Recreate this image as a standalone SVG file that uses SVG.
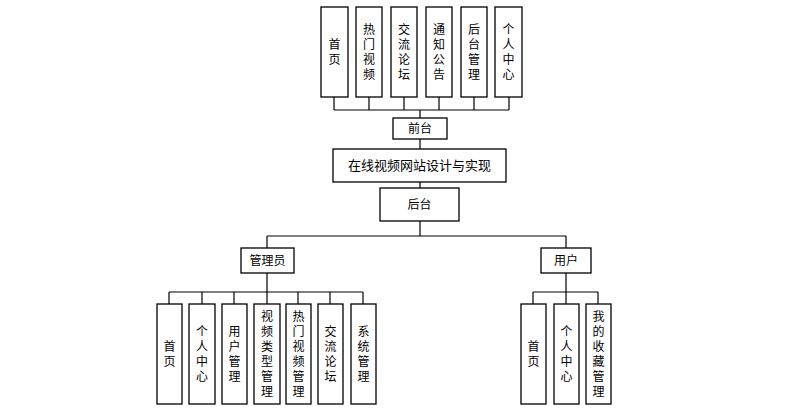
<svg xmlns="http://www.w3.org/2000/svg" width="794" height="415" viewBox="0 0 794 415">
<style>
rect{fill:#fff;stroke:#000;stroke-width:1.3}
text{font-family:"Noto Sans CJK SC",sans-serif;font-size:12px;fill:#000;text-anchor:middle}
.v{writing-mode:vertical-rl;letter-spacing:3px}
.c{stroke:#000;stroke-width:1.2;fill:none}
</style>
<rect x="0" y="0" width="794" height="415" style="stroke:none"/>
<g id="connectors" class="c">
<path d="M334 97V110M369 97V110M404 97V110M439 97V110M474 97V110M509 97V110M334 110H509M420 110V118"/>
<path d="M420 139V149M420 182V188M420 221V236M267 236H566M267 236V248M566 236V248"/>
<path d="M267 273V292M169 292H363M169 292V304M202 292V304M234 292V304M267 292V304M298 292V304M330 292V304M363 292V304"/>
<path d="M566 273V292M533 292H598M533 292V304M566 292V304M598 292V304"/>
</g>
<g id="t1"><rect x="321" y="7" width="27" height="90"/><text class="v" x="334.5" y="53.5">首页</text></g>
<g id="t2"><rect x="356" y="7" width="26" height="90"/><text class="v" x="369" y="53.5">热门视频</text></g>
<g id="t3"><rect x="391" y="7" width="26" height="90"/><text class="v" x="404" y="53.5">交流论坛</text></g>
<g id="t4"><rect x="426" y="7" width="26" height="90"/><text class="v" x="439" y="53.5">通知公告</text></g>
<g id="t5"><rect x="461" y="7" width="26" height="90"/><text class="v" x="474" y="53.5">后台管理</text></g>
<g id="t6"><rect x="495" y="7" width="27" height="90"/><text class="v" x="508.5" y="53.5">个人中心</text></g>
<g id="qiantai"><rect x="393" y="118" width="54" height="21"/><text x="420" y="133">前台</text></g>
<g id="main"><rect x="333" y="149" width="173" height="33"/><text x="419.5" y="170" style="font-size:13px">在线视频网站设计与实现</text></g>
<g id="houtai"><rect x="380" y="188" width="79" height="33"/><text x="419.5" y="209">后台</text></g>
<g id="admin"><rect x="241" y="248" width="53" height="25"/><text x="267.5" y="265">管理员</text></g>
<g id="user"><rect x="541" y="248" width="50" height="25"/><text x="566" y="265">用户</text></g>
<g id="a1"><rect x="157" y="304" width="25" height="100"/><text class="v" x="169.5" y="355.5">首页</text></g>
<g id="a2"><rect x="189" y="304" width="26" height="100"/><text class="v" x="202" y="355.5">个人中心</text></g>
<g id="a3"><rect x="222" y="304" width="25" height="100"/><text class="v" x="234.5" y="355.5">用户管理</text></g>
<g id="a4"><rect x="254" y="304" width="26" height="100"/><text class="v" x="267" y="355.5">视频类型管理</text></g>
<g id="a5"><rect x="286" y="304" width="25" height="100"/><text class="v" x="298.5" y="355.5">热门视频管理</text></g>
<g id="a6"><rect x="318" y="304" width="25" height="100"/><text class="v" x="330.5" y="355.5">交流论坛</text></g>
<g id="a7"><rect x="351" y="304" width="25" height="100"/><text class="v" x="363.5" y="355.5">系统管理</text></g>
<g id="u1"><rect x="521" y="304" width="25" height="100"/><text class="v" x="533.5" y="355.5">首页</text></g>
<g id="u2"><rect x="554" y="304" width="25" height="100"/><text class="v" x="566.5" y="355.5">个人中心</text></g>
<g id="u3"><rect x="586" y="304" width="25" height="100"/><text class="v" x="598.5" y="355.5">我的收藏管理</text></g>
</svg>
